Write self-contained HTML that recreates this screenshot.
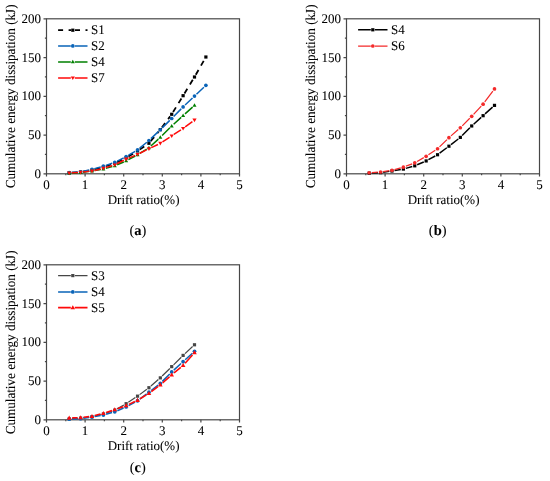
<!DOCTYPE html>
<html><head><meta charset="utf-8"><title>Cumulative energy dissipation</title>
<style>
html,body{margin:0;padding:0;background:#fff;}
body{width:550px;height:481px;overflow:hidden;}
svg{display:block;filter:blur(0.3px);}
text{font-family:"Liberation Serif", "Times New Roman", serif;font-size:13px;fill:#000;stroke:#000;stroke-width:0.06px;text-rendering:geometricPrecision;}
</style></head><body>
<svg width="550" height="481" viewBox="0 0 550 481">
<rect width="550" height="481" fill="#fff"/>
<rect x="46.5" y="18.8" width="193" height="155" fill="none" stroke="#474747" stroke-width="1.2"/>
<path d="M46.5 173.8v2.8M85.1 173.8v2.8M123.7 173.8v2.8M162.3 173.8v2.8M200.9 173.8v2.8M239.5 173.8v2.8M65.8 173.8v1.4M104.4 173.8v1.4M143 173.8v1.4M181.6 173.8v1.4M220.2 173.8v1.4M46.5 173.8h-3.0M46.5 135.05h-3.0M46.5 96.3h-3.0M46.5 57.55h-3.0M46.5 18.8h-3.0M46.5 154.43h-1.6M46.5 115.68h-1.6M46.5 76.93h-1.6M46.5 38.18h-1.6" stroke="#474747" stroke-width="1.2" fill="none"/>
<text transform="translate(46.5 189.2) scale(1 1.02)" text-anchor="middle">0</text>
<text transform="translate(85.1 189.2) scale(1 1.02)" text-anchor="middle">1</text>
<text transform="translate(123.7 189.2) scale(1 1.02)" text-anchor="middle">2</text>
<text transform="translate(162.3 189.2) scale(1 1.02)" text-anchor="middle">3</text>
<text transform="translate(200.9 189.2) scale(1 1.02)" text-anchor="middle">4</text>
<text transform="translate(239.5 189.2) scale(1 1.02)" text-anchor="middle">5</text>
<text transform="translate(41 177.9) scale(1 1.02)" text-anchor="end">0</text>
<text transform="translate(41 139.15) scale(1 1.02)" text-anchor="end">50</text>
<text transform="translate(41 100.4) scale(1 1.02)" text-anchor="end">100</text>
<text transform="translate(41 61.65) scale(1 1.02)" text-anchor="end">150</text>
<text transform="translate(41 22.9) scale(1 1.02)" text-anchor="end">200</text>
<text transform="translate(143.6 204.3) scale(1 1.02)" text-anchor="middle">Drift ratio(%)</text>
<text transform="translate(14.9 96.4) rotate(-90) scale(1.01 1.06)" text-anchor="middle">Cumulative energy dissipation (kJ)</text>
<text x="137.9" y="235" text-anchor="middle" style="font-size:14.5px">(<tspan font-weight="bold">a</tspan>)</text>
<path d="M71.79 172.69L77.99 172.27M83.15 171.64L89.42 170.53M94.49 169.4L100.86 167.66M105.85 166.19L112.28 164.13M117.11 162.22L123.8 159.03M128.37 156.55L135.32 152.3M139.7 149.48L146.78 144.72M150.6 141.27L158.66 131.62M161.87 127.54L170.16 116.37M173.07 112.06L181.75 97.9M184.46 93.46L193.14 79.22M195.78 74.74L204.6 59.27" fill="none" stroke="#000000" stroke-width="1.8" stroke-dasharray="5.5 5"/>
<rect x="67.6" y="171.27" width="3.2" height="3.2" fill="#000000"/>
<rect x="78.99" y="170.5" width="3.2" height="3.2" fill="#000000"/>
<rect x="90.38" y="168.48" width="3.2" height="3.2" fill="#000000"/>
<rect x="101.77" y="165.38" width="3.2" height="3.2" fill="#000000"/>
<rect x="113.16" y="161.74" width="3.2" height="3.2" fill="#000000"/>
<rect x="124.55" y="156.31" width="3.2" height="3.2" fill="#000000"/>
<rect x="135.94" y="149.34" width="3.2" height="3.2" fill="#000000"/>
<rect x="147.33" y="141.67" width="3.2" height="3.2" fill="#000000"/>
<rect x="158.72" y="128.03" width="3.2" height="3.2" fill="#000000"/>
<rect x="170.11" y="112.68" width="3.2" height="3.2" fill="#000000"/>
<rect x="181.51" y="94.08" width="3.2" height="3.2" fill="#000000"/>
<rect x="192.9" y="75.4" width="3.2" height="3.2" fill="#000000"/>
<rect x="204.29" y="55.41" width="3.2" height="3.2" fill="#000000"/>
<path d="M71.92 172.43L77.87 171.99M83.26 171.22L89.31 169.95M94.61 168.65L100.74 166.94M105.96 165.34L112.17 163.27M117.19 161.17L123.72 157.84M128.51 155.22L135.19 151.31M139.64 148.19L146.83 142.22M150.92 138.61L158.33 131.65M162.26 127.86L169.78 120.39M173.63 116.52L181.19 108.86M185.08 105.03L192.52 97.95M196.48 94.19L203.9 87.17" fill="none" stroke="#0a64b8" stroke-width="1.5"/>
<circle cx="69.2" cy="172.64" r="1.84" fill="#0a64b8"/>
<circle cx="80.59" cy="171.79" r="1.84" fill="#0a64b8"/>
<circle cx="91.98" cy="169.38" r="1.84" fill="#0a64b8"/>
<circle cx="103.37" cy="166.21" r="1.84" fill="#0a64b8"/>
<circle cx="114.76" cy="162.41" r="1.84" fill="#0a64b8"/>
<circle cx="126.15" cy="156.6" r="1.84" fill="#0a64b8"/>
<circle cx="137.54" cy="149.93" r="1.84" fill="#0a64b8"/>
<circle cx="148.93" cy="140.48" r="1.84" fill="#0a64b8"/>
<circle cx="160.32" cy="129.78" r="1.84" fill="#0a64b8"/>
<circle cx="171.71" cy="118.47" r="1.84" fill="#0a64b8"/>
<circle cx="183.11" cy="106.92" r="1.84" fill="#0a64b8"/>
<circle cx="194.5" cy="96.07" r="1.84" fill="#0a64b8"/>
<circle cx="205.89" cy="85.3" r="1.84" fill="#0a64b8"/>
<path d="M71.79 173.06L77.99 172.76M83.16 172.27L89.4 171.38M94.54 170.57L100.81 169.51M105.87 168.36L112.26 166.53M117.15 164.79L123.76 161.96M128.43 159.69L135.26 155.98M139.76 153.38L146.72 149.12M150.85 146.01L158.4 139.13M162.16 135.54L169.88 127.82M173.64 124.24L181.18 117.42M185.03 113.93L192.57 107.11" fill="none" stroke="#008000" stroke-width="1.5"/>
<path d="M69.2 171.08L71.2 174.58L67.2 174.58Z" fill="#008000"/>
<path d="M80.59 170.54L82.59 174.04L78.59 174.04Z" fill="#008000"/>
<path d="M91.98 168.91L93.98 172.41L89.98 172.41Z" fill="#008000"/>
<path d="M103.37 166.97L105.37 170.47L101.37 170.47Z" fill="#008000"/>
<path d="M114.76 163.72L116.76 167.22L112.76 167.22Z" fill="#008000"/>
<path d="M126.15 158.84L128.15 162.34L124.15 162.34Z" fill="#008000"/>
<path d="M137.54 152.64L139.54 156.14L135.54 156.14Z" fill="#008000"/>
<path d="M148.93 145.66L150.93 149.16L146.93 149.16Z" fill="#008000"/>
<path d="M160.32 135.28L162.32 138.78L158.32 138.78Z" fill="#008000"/>
<path d="M171.71 123.88L173.71 127.38L169.71 127.38Z" fill="#008000"/>
<path d="M183.11 113.58L185.11 117.08L181.11 117.08Z" fill="#008000"/>
<path d="M194.5 103.27L196.5 106.77L192.5 106.77Z" fill="#008000"/>
<path d="M71.79 172.85L77.99 172.43M83.17 171.97L89.39 171.29M94.51 170.41L100.84 168.9M105.86 167.55L112.27 165.63M117.08 163.71L123.84 160.26M128.56 158.09L135.13 155.41M139.86 153.26L146.61 149.86M151.29 147.59L157.97 144.45M162.5 141.92L169.54 137.32M173.88 134.47L180.94 129.82M185.2 126.85L192.4 121.55" fill="none" stroke="#ff0a0a" stroke-width="1.5"/>
<path d="M69.2 175.22L71.3 171.53L67.1 171.53Z" fill="#ff0a0a"/>
<path d="M80.59 174.45L82.69 170.75L78.49 170.75Z" fill="#ff0a0a"/>
<path d="M91.98 173.21L94.08 169.51L89.88 169.51Z" fill="#ff0a0a"/>
<path d="M103.37 170.5L105.47 166.8L101.27 166.8Z" fill="#ff0a0a"/>
<path d="M114.76 167.09L116.86 163.39L112.66 163.39Z" fill="#ff0a0a"/>
<path d="M126.15 161.28L128.25 157.58L124.05 157.58Z" fill="#ff0a0a"/>
<path d="M137.54 156.62L139.64 152.93L135.44 152.93Z" fill="#ff0a0a"/>
<path d="M148.93 150.89L151.03 147.19L146.83 147.19Z" fill="#ff0a0a"/>
<path d="M160.32 145.54L162.42 141.84L158.22 141.84Z" fill="#ff0a0a"/>
<path d="M171.71 138.1L173.81 134.4L169.61 134.4Z" fill="#ff0a0a"/>
<path d="M183.11 130.59L185.21 126.89L181.01 126.89Z" fill="#ff0a0a"/>
<path d="M194.5 122.22L196.6 118.52L192.4 118.52Z" fill="#ff0a0a"/>
<path d="M58.1 30.2H71M75 30.2H87.5" stroke="#000000" stroke-width="1.8" stroke-dasharray="5 5.5"/>
<rect x="71.2" y="28.6" width="3.2" height="3.2" fill="#000000"/>
<text transform="translate(91 34.2) scale(1 1.02)">S1</text>
<path d="M58.1 45.9H70.8M74.8 45.9H87.5" stroke="#0a64b8" stroke-width="1.5"/>
<circle cx="72.8" cy="45.9" r="1.84" fill="#0a64b8"/>
<text transform="translate(91 49.9) scale(1 1.02)">S2</text>
<path d="M58.1 61.9H70.8M74.8 61.9H87.5" stroke="#008000" stroke-width="1.5"/>
<path d="M72.8 59.8L74.8 63.3L70.8 63.3Z" fill="#008000"/>
<text transform="translate(91 65.9) scale(1 1.02)">S4</text>
<path d="M58.1 77.9H70.8M74.8 77.9H87.5" stroke="#ff0a0a" stroke-width="1.5"/>
<path d="M72.8 80.1L74.9 76.4L70.7 76.4Z" fill="#ff0a0a"/>
<text transform="translate(91 81.9) scale(1 1.02)">S7</text>
<rect x="346.5" y="18.8" width="193" height="155" fill="none" stroke="#474747" stroke-width="1.2"/>
<path d="M346.5 173.8v2.8M385.1 173.8v2.8M423.7 173.8v2.8M462.3 173.8v2.8M500.9 173.8v2.8M539.5 173.8v2.8M365.8 173.8v1.4M404.4 173.8v1.4M443 173.8v1.4M481.6 173.8v1.4M520.2 173.8v1.4M346.5 173.8h-3.0M346.5 135.05h-3.0M346.5 96.3h-3.0M346.5 57.55h-3.0M346.5 18.8h-3.0M346.5 154.43h-1.6M346.5 115.68h-1.6M346.5 76.93h-1.6M346.5 38.18h-1.6" stroke="#474747" stroke-width="1.2" fill="none"/>
<text transform="translate(346.5 189.2) scale(1 1.02)" text-anchor="middle">0</text>
<text transform="translate(385.1 189.2) scale(1 1.02)" text-anchor="middle">1</text>
<text transform="translate(423.7 189.2) scale(1 1.02)" text-anchor="middle">2</text>
<text transform="translate(462.3 189.2) scale(1 1.02)" text-anchor="middle">3</text>
<text transform="translate(500.9 189.2) scale(1 1.02)" text-anchor="middle">4</text>
<text transform="translate(539.5 189.2) scale(1 1.02)" text-anchor="middle">5</text>
<text transform="translate(341 177.9) scale(1 1.02)" text-anchor="end">0</text>
<text transform="translate(341 139.15) scale(1 1.02)" text-anchor="end">50</text>
<text transform="translate(341 100.4) scale(1 1.02)" text-anchor="end">100</text>
<text transform="translate(341 61.65) scale(1 1.02)" text-anchor="end">150</text>
<text transform="translate(341 22.9) scale(1 1.02)" text-anchor="end">200</text>
<text transform="translate(443.6 204.3) scale(1 1.02)" text-anchor="middle">Drift ratio(%)</text>
<text transform="translate(314.9 96.4) rotate(-90) scale(1.01 1.06)" text-anchor="middle">Cumulative energy dissipation (kJ)</text>
<text x="437.75" y="235" text-anchor="middle" style="font-size:14.5px">(<tspan font-weight="bold">b</tspan>)</text>
<path d="M371.79 173.06L377.99 172.76M383.16 172.27L389.4 171.38M394.54 170.57L400.81 169.51M405.87 168.36L412.26 166.53M417.15 164.79L423.76 161.96M428.43 159.69L435.26 155.98M439.62 153.18L446.85 147.77M450.99 144.62L458.27 138.97M462.16 135.54L469.88 127.82M473.64 124.24L481.18 117.42M485.03 113.93L492.57 107.11" fill="none" stroke="#000000" stroke-width="1.5"/>
<rect x="367.6" y="171.58" width="3.2" height="3.2" fill="#000000"/>
<rect x="378.99" y="171.04" width="3.2" height="3.2" fill="#000000"/>
<rect x="390.38" y="169.41" width="3.2" height="3.2" fill="#000000"/>
<rect x="401.77" y="167.47" width="3.2" height="3.2" fill="#000000"/>
<rect x="413.16" y="164.22" width="3.2" height="3.2" fill="#000000"/>
<rect x="424.55" y="159.34" width="3.2" height="3.2" fill="#000000"/>
<rect x="435.94" y="153.14" width="3.2" height="3.2" fill="#000000"/>
<rect x="447.33" y="144.61" width="3.2" height="3.2" fill="#000000"/>
<rect x="458.72" y="135.78" width="3.2" height="3.2" fill="#000000"/>
<rect x="470.11" y="124.38" width="3.2" height="3.2" fill="#000000"/>
<rect x="481.51" y="114.08" width="3.2" height="3.2" fill="#000000"/>
<rect x="492.9" y="103.77" width="3.2" height="3.2" fill="#000000"/>
<path d="M371.92 172.55L377.86 172.18M383.29 171.61L389.28 170.72M394.61 169.58L400.74 167.87M405.93 166.18L412.2 163.83M417.12 161.51L423.79 157.65M428.43 154.78L435.26 150.27M439.5 146.86L446.98 139.59M450.99 135.89L458.26 129.56M462.25 125.83L469.78 118.3M473.57 114.37L481.25 106.13M484.74 101.94L492.86 91.12" fill="none" stroke="#f42a2a" stroke-width="1.25"/>
<circle cx="369.2" cy="172.72" r="1.84" fill="#f42a2a"/>
<circle cx="380.59" cy="172.02" r="1.84" fill="#f42a2a"/>
<circle cx="391.98" cy="170.31" r="1.84" fill="#f42a2a"/>
<circle cx="403.37" cy="167.14" r="1.84" fill="#f42a2a"/>
<circle cx="414.76" cy="162.87" r="1.84" fill="#f42a2a"/>
<circle cx="426.15" cy="156.29" r="1.84" fill="#f42a2a"/>
<circle cx="437.54" cy="148.77" r="1.84" fill="#f42a2a"/>
<circle cx="448.93" cy="137.69" r="1.84" fill="#f42a2a"/>
<circle cx="460.32" cy="127.77" r="1.84" fill="#f42a2a"/>
<circle cx="471.71" cy="116.37" r="1.84" fill="#f42a2a"/>
<circle cx="483.11" cy="104.13" r="1.84" fill="#f42a2a"/>
<circle cx="494.5" cy="88.94" r="1.84" fill="#f42a2a"/>
<path d="M358.1 29.8H370.8M374.8 29.8H387.5" stroke="#000000" stroke-width="1.5"/>
<rect x="371.2" y="28.2" width="3.2" height="3.2" fill="#000000"/>
<text transform="translate(391 33.8) scale(1 1.02)">S4</text>
<path d="M358.1 46H370.8M374.8 46H387.5" stroke="#f42a2a" stroke-width="1.25"/>
<circle cx="372.8" cy="46" r="1.84" fill="#f42a2a"/>
<text transform="translate(391 50) scale(1 1.02)">S6</text>
<rect x="46.5" y="264.8" width="193" height="155" fill="none" stroke="#474747" stroke-width="1.2"/>
<path d="M46.5 419.8v2.8M85.1 419.8v2.8M123.7 419.8v2.8M162.3 419.8v2.8M200.9 419.8v2.8M239.5 419.8v2.8M65.8 419.8v1.4M104.4 419.8v1.4M143 419.8v1.4M181.6 419.8v1.4M220.2 419.8v1.4M46.5 419.8h-3.0M46.5 381.05h-3.0M46.5 342.3h-3.0M46.5 303.55h-3.0M46.5 264.8h-3.0M46.5 400.43h-1.6M46.5 361.68h-1.6M46.5 322.93h-1.6M46.5 284.18h-1.6" stroke="#474747" stroke-width="1.2" fill="none"/>
<text transform="translate(46.5 435.2) scale(1 1.02)" text-anchor="middle">0</text>
<text transform="translate(85.1 435.2) scale(1 1.02)" text-anchor="middle">1</text>
<text transform="translate(123.7 435.2) scale(1 1.02)" text-anchor="middle">2</text>
<text transform="translate(162.3 435.2) scale(1 1.02)" text-anchor="middle">3</text>
<text transform="translate(200.9 435.2) scale(1 1.02)" text-anchor="middle">4</text>
<text transform="translate(239.5 435.2) scale(1 1.02)" text-anchor="middle">5</text>
<text transform="translate(41 423.9) scale(1 1.02)" text-anchor="end">0</text>
<text transform="translate(41 385.15) scale(1 1.02)" text-anchor="end">50</text>
<text transform="translate(41 346.4) scale(1 1.02)" text-anchor="end">100</text>
<text transform="translate(41 307.65) scale(1 1.02)" text-anchor="end">150</text>
<text transform="translate(41 268.9) scale(1 1.02)" text-anchor="end">200</text>
<text transform="translate(143.6 450.3) scale(1 1.02)" text-anchor="middle">Drift ratio(%)</text>
<text transform="translate(14.9 342.4) rotate(-90) scale(1.01 1.06)" text-anchor="middle">Cumulative energy dissipation (kJ)</text>
<text x="137.75" y="471.6" text-anchor="middle" style="font-size:14.5px">(<tspan font-weight="bold">c</tspan>)</text>
<path d="M71.79 418.69L77.99 418.27M83.17 417.78L89.4 417.02M94.51 416.1L100.84 414.59M105.83 413.15L112.3 410.95M117.02 408.83L123.89 404.96M128.32 402.25L135.37 397.59M139.63 394.61L146.84 389.26M150.9 386.02L158.36 379.57M162.17 376.05L169.86 368.46M173.57 364.81L181.25 357.22M185.01 353.62L192.59 346.55" fill="none" stroke="#464646" stroke-width="1.2"/>
<rect x="67.6" y="417.27" width="3.2" height="3.2" fill="#464646"/>
<rect x="78.99" y="416.5" width="3.2" height="3.2" fill="#464646"/>
<rect x="90.38" y="415.1" width="3.2" height="3.2" fill="#464646"/>
<rect x="101.77" y="412.39" width="3.2" height="3.2" fill="#464646"/>
<rect x="113.16" y="408.51" width="3.2" height="3.2" fill="#464646"/>
<rect x="124.55" y="402.08" width="3.2" height="3.2" fill="#464646"/>
<rect x="135.94" y="394.56" width="3.2" height="3.2" fill="#464646"/>
<rect x="147.33" y="386.12" width="3.2" height="3.2" fill="#464646"/>
<rect x="158.72" y="376.27" width="3.2" height="3.2" fill="#464646"/>
<rect x="170.11" y="365.03" width="3.2" height="3.2" fill="#464646"/>
<rect x="181.51" y="353.8" width="3.2" height="3.2" fill="#464646"/>
<rect x="192.9" y="343.18" width="3.2" height="3.2" fill="#464646"/>
<path d="M72 419.05L77.78 418.77M83.37 418.24L89.2 417.41M94.75 416.54L100.6 415.54M106.07 414.3L112.06 412.59M117.34 410.71L123.57 408.04M128.62 405.59L135.08 402.08M139.79 399.05L146.68 393.89M151.15 390.49L158.1 385.1M162.31 381.39L169.73 373.97M173.8 370.1L181.02 363.56M185.19 359.79L192.41 353.25" fill="none" stroke="#0a64b8" stroke-width="1.5"/>
<circle cx="69.2" cy="419.18" r="1.89" fill="#0a64b8"/>
<circle cx="80.59" cy="418.64" r="1.89" fill="#0a64b8"/>
<circle cx="91.98" cy="417.01" r="1.89" fill="#0a64b8"/>
<circle cx="103.37" cy="415.07" r="1.89" fill="#0a64b8"/>
<circle cx="114.76" cy="411.82" r="1.89" fill="#0a64b8"/>
<circle cx="126.15" cy="406.94" r="1.89" fill="#0a64b8"/>
<circle cx="137.54" cy="400.74" r="1.89" fill="#0a64b8"/>
<circle cx="148.93" cy="392.21" r="1.89" fill="#0a64b8"/>
<circle cx="160.32" cy="383.38" r="1.89" fill="#0a64b8"/>
<circle cx="171.71" cy="371.98" r="1.89" fill="#0a64b8"/>
<circle cx="183.11" cy="361.68" r="1.89" fill="#0a64b8"/>
<circle cx="194.5" cy="351.37" r="1.89" fill="#0a64b8"/>
<path d="M72.19 417.92L77.6 417.73M83.56 417.29L89.01 416.66M94.87 415.55L100.48 414.06M106.22 412.4L111.91 410.62M117.57 408.71L123.34 406.63M128.86 404.35L134.84 401.54M140.1 398.72L146.38 394.92M151.32 391.57L157.94 386.57M162.58 382.81L169.46 376.81M174.02 372.94L180.8 367.3M185.11 363.17L192.49 354.98" fill="none" stroke="#ff0a0a" stroke-width="1.6"/>
<path d="M69.2 415.6L71.5 419.63L66.9 419.63Z" fill="#ff0a0a"/>
<path d="M80.59 415.21L82.89 419.24L78.29 419.24Z" fill="#ff0a0a"/>
<path d="M91.98 413.9L94.28 417.92L89.68 417.92Z" fill="#ff0a0a"/>
<path d="M103.37 410.88L105.67 414.9L101.07 414.9Z" fill="#ff0a0a"/>
<path d="M114.76 407.31L117.06 411.34L112.46 411.34Z" fill="#ff0a0a"/>
<path d="M126.15 403.2L128.45 407.23L123.85 407.23Z" fill="#ff0a0a"/>
<path d="M137.54 397.85L139.84 401.88L135.24 401.88Z" fill="#ff0a0a"/>
<path d="M148.93 390.96L151.23 394.98L146.63 394.98Z" fill="#ff0a0a"/>
<path d="M160.32 382.35L162.62 386.38L158.02 386.38Z" fill="#ff0a0a"/>
<path d="M171.71 372.44L174.01 376.46L169.41 376.46Z" fill="#ff0a0a"/>
<path d="M183.11 362.98L185.41 367L180.81 367Z" fill="#ff0a0a"/>
<path d="M194.5 350.35L196.8 354.37L192.2 354.37Z" fill="#ff0a0a"/>
<path d="M58.1 275.6H70.8M74.8 275.6H87.5" stroke="#464646" stroke-width="1.2"/>
<rect x="71.2" y="274" width="3.2" height="3.2" fill="#464646"/>
<text transform="translate(91 279.6) scale(1 1.02)">S3</text>
<path d="M58.1 291.9H70.8M74.8 291.9H87.5" stroke="#0a64b8" stroke-width="1.5"/>
<circle cx="72.8" cy="291.9" r="1.89" fill="#0a64b8"/>
<text transform="translate(91 295.9) scale(1 1.02)">S4</text>
<path d="M58.1 307.6H70.8M74.8 307.6H87.5" stroke="#ff0a0a" stroke-width="1.6"/>
<path d="M72.8 305.19L75.1 309.21L70.5 309.21Z" fill="#ff0a0a"/>
<text transform="translate(91 311.6) scale(1 1.02)">S5</text>
</svg>
</body></html>
